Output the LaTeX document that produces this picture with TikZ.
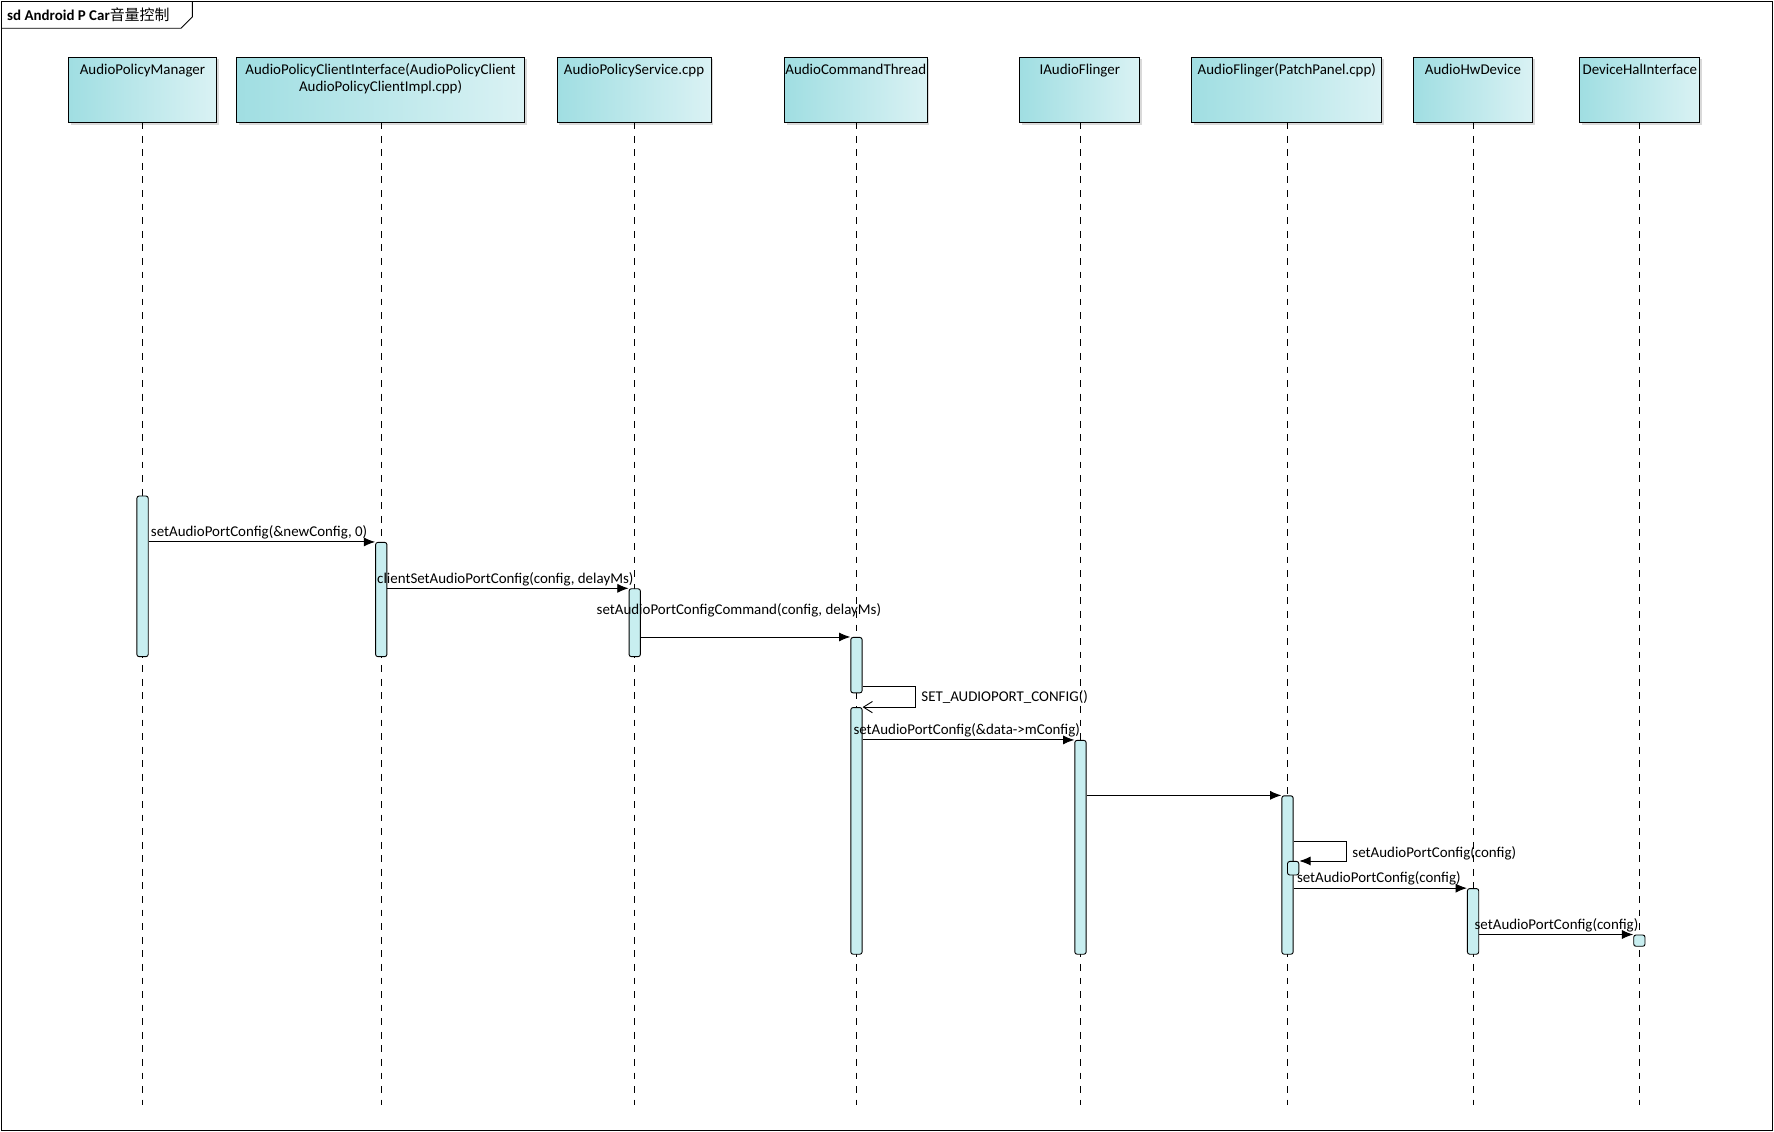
\documentclass[tikz,border=0pt]{standalone}
\usepackage{fontspec}
\setmainfont{Carlito}
\newfontfamily\cjk{Noto Sans CJK SC}
\usetikzlibrary{arrows.meta, positioning, shadows}
\definecolor{hdleft}{RGB}{160,222,226}
\definecolor{hdright}{RGB}{218,242,244}
\definecolor{actfill}{RGB}{200,238,240}
\begin{document}
\begin{tikzpicture}[x=0.5pt, y=-0.5pt, >={Latex[length=5pt,width=4pt]}, font=\fontsize{6.6}{7.6}\selectfont]
\tikzstyle{hd}=[draw, anchor=north west, inner sep=0pt,
  left color=hdleft, right color=hdright, drop shadow={shadow xshift=1pt, shadow yshift=-1pt, opacity=0.3}]
\tikzstyle{hdtxt}=[anchor=north, inner sep=0pt, align=center]
\tikzstyle{act}=[draw, fill=actfill, rounded corners=1pt, minimum width=5pt, inner sep=0pt, anchor=north]
\tikzstyle{life}=[dashed, line width=0.4pt]
\tikzstyle{msg}=[->, line width=0.4pt]
\tikzstyle{lbl}=[anchor=south west, inner sep=1pt]

\useasboundingbox (0,0) rectangle (1568,1000);
\draw[line width=0.5pt] (1,1) rectangle (1567,999);
\draw (1,25) -- (160,25) -- (170,15) -- (170,1);
\node[anchor=west, inner sep=0pt, font=\fontsize{6.6}{7.6}\selectfont\bfseries] (title) at (6,13) {sd Android P Car{\cjk\mdseries 音量控制}};

% lifeline heads
\foreach \n/\l/\r/\t in {h1/60/191/AudioPolicyManager,
    h2/209/463/{AudioPolicyClientInterface(AudioPolicyClient\\AudioPolicyClientImpl.cpp)},
    h3/492/628/AudioPolicyService.cpp, h4/693/819/AudioCommandThread,
    h5/901/1007/IAudioFlinger, h6/1053/1221/AudioFlinger(PatchPanel.cpp),
    h7/1249/1354/AudioHwDevice, h8/1396/1502/DeviceHalInterface}{
  \pgfmathsetmacro{\w}{(\r-\l)*0.5}
  \node[hd, minimum width=\w pt, minimum height=29pt] (\n) at (\l,50) {};
  \node[hdtxt] (\n t) at ([yshift=-3pt]\n.north) {\t};
}

% lifelines
\foreach \n/\x in {h1/126, h2/337, h3/561, h4/757, h5/955, h6/1138, h7/1302, h8/1449}{
  \coordinate (e\n) at (\x,977);
  \draw[life] (\x,108) -- (e\n);
}

% activations
\node[act, minimum height=71pt] (a1) at (126,438) {};
\node[act, minimum height=50.5pt] (a2) at (337,479) {};
\node[act, minimum height=30pt] (a3) at (561,520) {};
\node[act, minimum height=24.5pt] (a4) at (757,563) {};
\node[act, minimum height=109pt] (a4b) at (757,625) {};
\node[act, minimum height=94.5pt] (a5) at (955,654) {};
\node[act, minimum height=70pt] (a6) at (1138,703) {};
\node[act, minimum height=6pt] (a6b) at (1143,761) {};
\node[act, minimum height=29pt] (a7) at (1302,785) {};
\node[act, minimum height=5pt] (a8) at (1449,826) {};

% messages
\draw[msg] (a1.east |- 0,479) -- (a2.west |- 0,479);
\node[lbl] (m1) at (131,479) {setAudioPortConfig(\&newConfig, 0)};
\draw[msg] (a2.east |- 0,520) -- (a3.west |- 0,520);
\node[lbl] (m2) at (331,520) {clientSetAudioPortConfig(config, delayMs)};
\draw[msg] (a3.east |- 0,563) -- (a4.west |- 0,563);
\node[lbl] (m3) at (525,548) {setAudioPortConfigCommand(config, delayMs)};
\draw[-{Straight Barb[open,length=4pt,width=5pt]}] (a4.east |- 0,607) -- (809,607) -- (809,625) -- (a4b.east |- 0,625);
\node[anchor=west, inner sep=1pt] (m4) at (812,616) {SET\_AUDIOPORT\_CONFIG()};
\draw[msg] (a4b.east |- 0,654) -- (a5.west |- 0,654);
\node[lbl] (m5) at (752,654) {setAudioPortConfig(\&data->mConfig)};
\draw[msg] (a5.east |- 0,703) -- (a6.west |- 0,703);
\draw[->] (a6.east |- 0,744) -- (1190,744) -- (1190,761) -- (a6b.east |- 0,761);
\node[anchor=west, inner sep=1pt] (m6) at (1193,754) {setAudioPortConfig(config)};
\draw[msg] (a6.east |- 0,785) -- (a7.west |- 0,785);
\node[lbl] (m7) at (1144,785) {setAudioPortConfig(config)};
\draw[msg] (a7.east |- 0,826) -- (a8.west |- 0,826);
\node[lbl] (m8) at (1301,826) {setAudioPortConfig(config)};
\end{tikzpicture}
\end{document}
